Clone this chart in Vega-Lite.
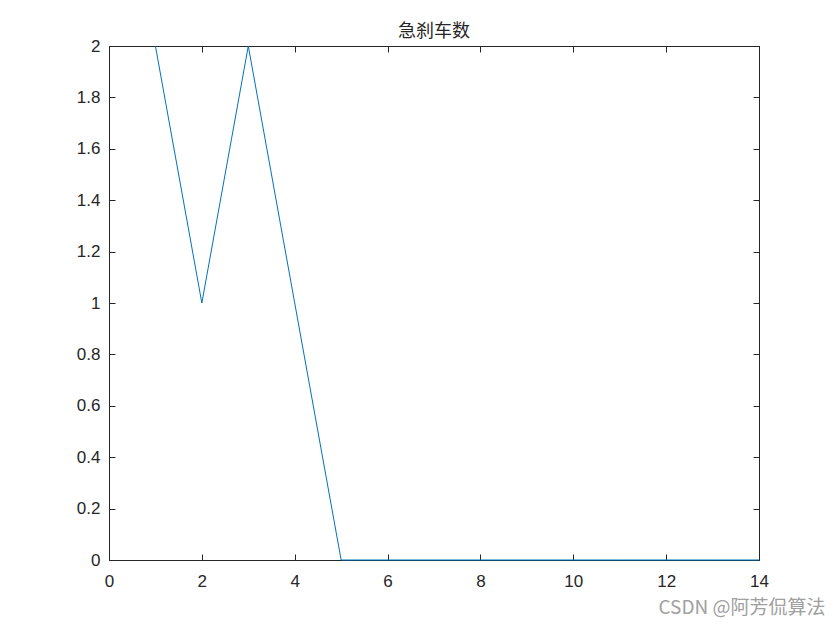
{
  "$schema": "https://vega.github.io/schema/vega-lite/v6.json",
  "width": 650,
  "height": 514,
  "autosize": {"type": "none"},
  "padding": {"left": 109, "top": 46, "right": 81, "bottom": 70},
  "background": "white",
  "title": {"text": "急刹车数", "font": "Noto Sans CJK SC", "fontSize": 18, "fontWeight": "normal", "color": "#262626", "offset": -4, "anchor": "middle"},
  "config": {
    "view": {"stroke": null},
    "axis": {"grid": false, "domainColor": "#262626", "tickColor": "#262626", "labelColor": "#262626", "labelFont": "Liberation Sans", "labelFontSize": 17, "tickSize": -6, "domainWidth": 1, "tickWidth": 1}
  },
  "data": {"values": [
    {"x": 1, "y": 2}, {"x": 2, "y": 1}, {"x": 3, "y": 2}, {"x": 4, "y": 1},
    {"x": 5, "y": 0}, {"x": 6, "y": 0}, {"x": 7, "y": 0}, {"x": 8, "y": 0},
    {"x": 9, "y": 0}, {"x": 10, "y": 0}, {"x": 11, "y": 0}, {"x": 12, "y": 0},
    {"x": 13, "y": 0}, {"x": 14, "y": 0}
  ]},
  "layer": [
    {
      "mark": {"type": "line", "color": "#0072BD", "strokeWidth": 1},
      "encoding": {
        "x": {"field": "x", "type": "quantitative", "scale": {"domain": [0, 14], "nice": false, "zero": false},
          "axis": {"orient": "bottom", "values": [0, 2, 4, 6, 8, 10, 12, 14], "labelPadding": 19, "title": "CSDN @阿芳侃算法", "titleFont": "Noto Sans CJK SC", "titleFontSize": 19, "titleFontWeight": "normal", "titleColor": "#A0A0A0", "titleAnchor": "end", "titleAlign": "right", "titleBaseline": "top", "titleX": 716, "titleY": 38, "labelFlush": false}},
        "y": {"field": "y", "type": "quantitative", "scale": {"domain": [0, 2], "nice": false},
          "axis": {"orient": "left", "values": [0, 0.2, 0.4, 0.6, 0.8, 1, 1.2, 1.4, 1.6, 1.8, 2], "format": "~g", "labelPadding": 15, "title": null, "labelFlush": false}}
      }
    },
    {
      "mark": {"type": "line", "opacity": 0},
      "encoding": {
        "x": {"field": "x", "type": "quantitative", "axis": {"orient": "top", "values": [0, 2, 4, 6, 8, 10, 12, 14], "labels": false, "title": null}},
        "y": {"field": "y", "type": "quantitative", "axis": {"orient": "right", "values": [0, 0.2, 0.4, 0.6, 0.8, 1, 1.2, 1.4, 1.6, 1.8, 2], "labels": false, "title": null}}
      }
    }
  ],
  "resolve": {"axis": {"x": "independent", "y": "independent"}}
}
